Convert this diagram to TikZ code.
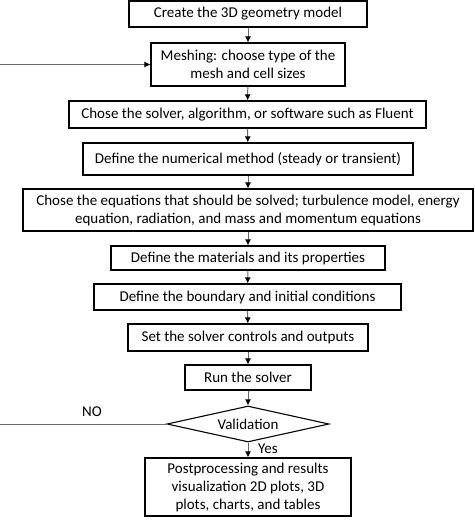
\documentclass[tikz,border=0pt]{standalone}
\usepackage{fontspec}
\setmainfont{Carlito}
\usetikzlibrary{shapes.geometric,arrows.meta}
\definecolor{lnk}{RGB}{105,105,105}
\begin{document}
\begin{tikzpicture}[x=1pt,y=-1pt,
  stepbox/.style={draw, line width=1.1pt, inner sep=0pt, align=center, font=\fontsize{15}{18}\selectfont},
  decide/.style={draw, line width=1.1pt, diamond, aspect=4.5, inner sep=0pt, font=\fontsize{15}{18}\selectfont},
  link/.style={draw=lnk, line width=1pt, -{Latex[length=6pt,width=6pt,black]}},
  plain/.style={draw=lnk, line width=1pt},
  lbl/.style={font=\fontsize{15}{18}\selectfont}]
\useasboundingbox (0,0) rectangle (474,524);
\node[stepbox, minimum width=238pt, minimum height=26pt] (s0) at (248,14){Create the 3D geometry model};
\node[stepbox, minimum width=194pt, minimum height=43pt] (s1) at (248,64.5){Meshing: choose type of the\\mesh and cell sizes};
\node[stepbox, minimum width=357pt, minimum height=27pt] (s2) at (247.5,114.5){Chose the solver, algorithm, or software such as Fluent};
\node[stepbox, minimum width=330pt, minimum height=32pt] (s3) at (248,159){Define the numerical method (steady or transient)};
\node[stepbox, minimum width=450pt, minimum height=42pt] (s4) at (248,210){Chose the equations that should be solved; turbulence model, energy\\equation, radiation, and mass and momentum equations};
\node[stepbox, minimum width=274pt, minimum height=24pt] (s5) at (248,258){Define the materials and its properties};
\node[stepbox, minimum width=307pt, minimum height=26pt] (s6) at (247.5,297){Define the boundary and initial conditions};
\node[stepbox, minimum width=240pt, minimum height=27pt] (s7) at (248,337.5){Set the solver controls and outputs};
\node[stepbox, minimum width=126pt, minimum height=25pt] (s8) at (248,377.5){Run the solver};
\node[decide, minimum width=162pt, minimum height=36pt] (val) at (248,424){Validation};
\node[stepbox, minimum width=206pt, minimum height=58pt] (s9) at (248,487){Postprocessing and results\\visualization 2D plots, 3D\\plots, charts, and tables};
% loop ends cut at the left edge
\coordinate (inL) at (0,64.5);
\coordinate (noL) at (0,424);
\draw[link] (s0) -- (s1);
\draw[link] (s1) -- (s2);
\draw[link] (s2) -- (s3);
\draw[link] (s3) -- (s4);
\draw[link] (s4) -- (s5);
\draw[link] (s5) -- (s6);
\draw[link] (s6) -- (s7);
\draw[link] (s7) -- (s8);
\draw[link] (s8) -- (val);
\draw[link] (val) -- (s9);
\draw[link] (inL) -- (s1.west);
\draw[plain] (val.west) -- (noL);
\node[lbl] (no) at (92,412){NO};
\node[lbl] (yes) at (268,449){Yes};
\end{tikzpicture}
\end{document}
